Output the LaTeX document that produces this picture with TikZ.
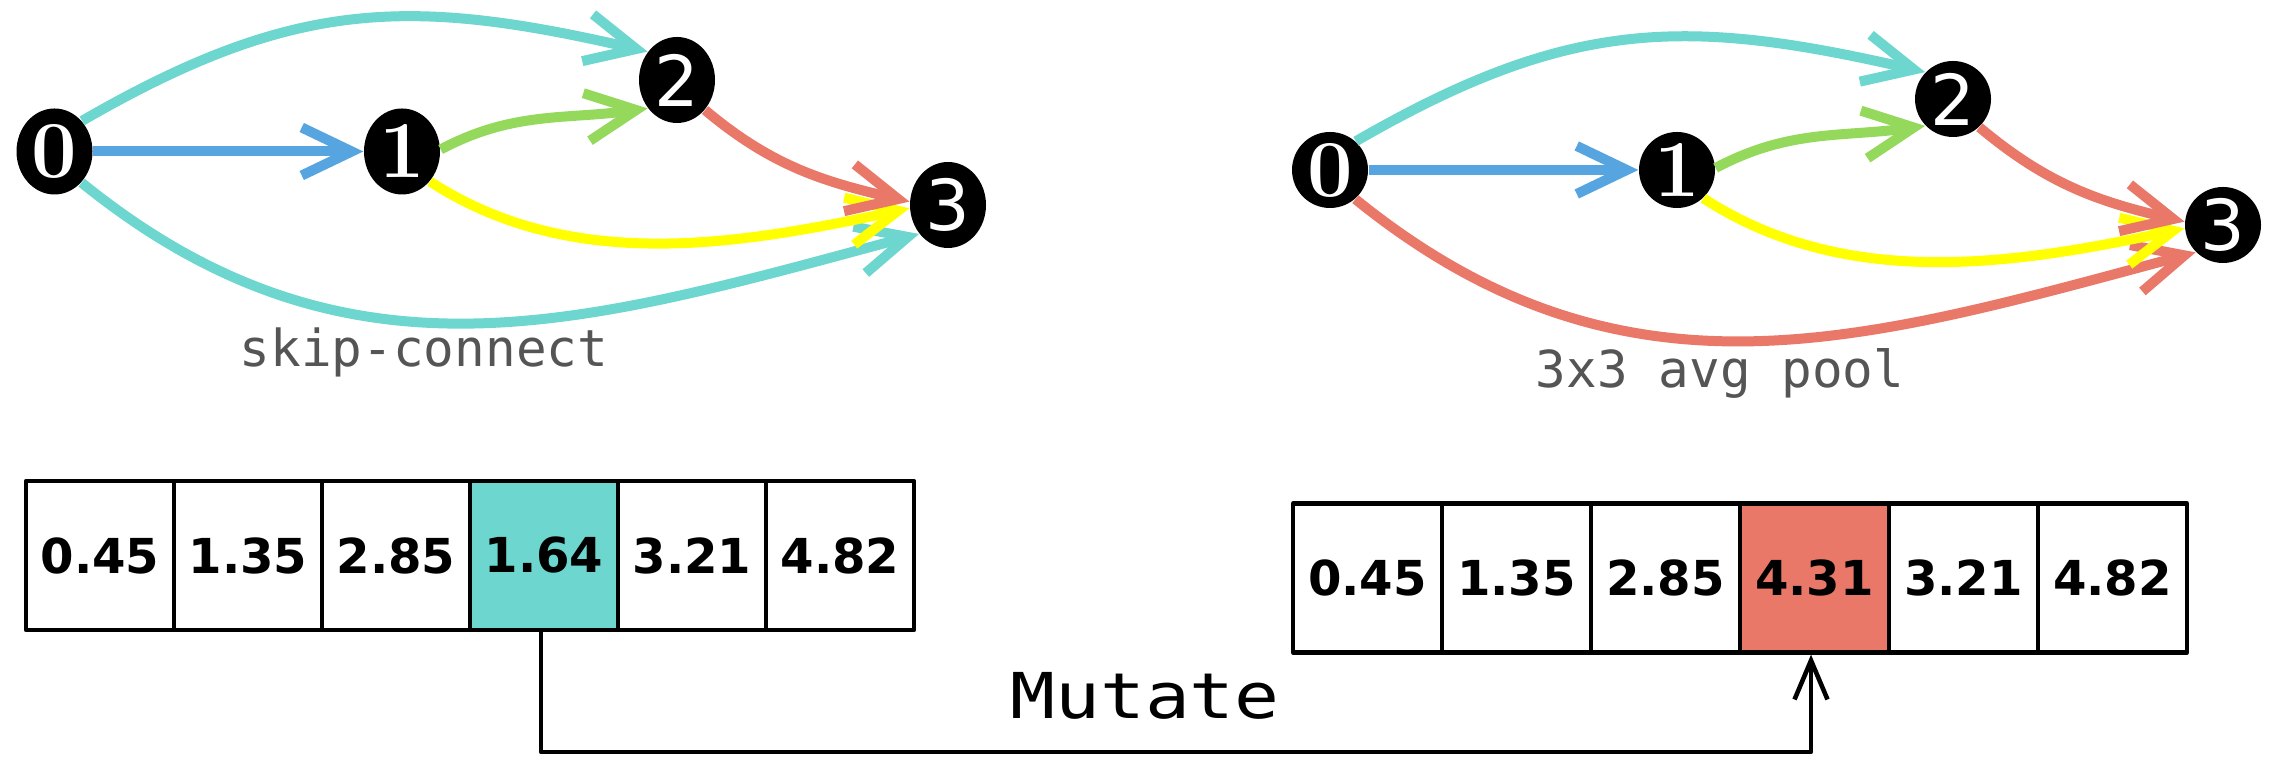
\documentclass[tikz,border=0pt]{standalone}
\usepackage{fontspec}
\usepackage{tikz}
\usetikzlibrary{arrows.meta}
\usetikzlibrary{shapes.geometric}
\newfontfamily\monofont{DejaVu Sans Mono}
\newfontfamily\dvsans{DejaVu Sans}
\definecolor{skipcyan}{RGB}{108,214,207}
\definecolor{poolred}{RGB}{233,120,104}
\definecolor{convblue}{RGB}{86,165,224}
\definecolor{sepgreen}{RGB}{148,216,92}
\definecolor{diltyellow}{RGB}{255,255,0}
\definecolor{labelgray}{RGB}{85,85,85}

\tikzset{
  opnode/.style={fill=black, text=white, inner sep=0pt},
  lnode/.style={opnode, ellipse, minimum width=0.76cm, minimum height=0.86cm},
  rnode/.style={opnode, circle, minimum size=0.76cm},
  romnum/.style={font=\fontsize{23}{25}\selectfont\bfseries},
  sansnum/.style={font=\dvsans\fontsize{20}{22}\selectfont},
  link/.style={line width=0.1cm, -{Straight Barb[length=0.5cm, width=0.48cm]}},
  cell/.style={draw, line width=1.2pt, minimum height=1.49cm, inner sep=0pt,
    font=\dvsans\bfseries\fontsize{13.7}{16}\selectfont},
  oplabel/.style={anchor=base, text=labelgray, font=\monofont\fontsize{14.5}{17}\selectfont}
}

\begin{document}
\begin{tikzpicture}[line join=round]
	\useasboundingbox (0,0) rectangle (22.75,-7.75);
	\node[lnode, romnum] (a0) at (0.545,-1.515) {0};
	\node[lnode, romnum] (a1) at (4.02,-1.515) {1};
	\node[lnode, sansnum] (a2) at (6.77,-0.80) {2};
	\node[lnode, sansnum] (a3) at (9.48,-2.05) {3};
	\node[rnode, romnum] (b0) at (13.30,-1.70) {0};
	\node[rnode, romnum] (b1) at (16.77,-1.70) {1};
	\node[rnode, sansnum] (b2) at (19.53,-0.99) {2};
	\node[rnode, sansnum] (b3) at (22.23,-2.25) {3};
	\foreach \g/\lc in {a/skipcyan, b/poolred} {
		\draw[link, convblue] (\g0) -- (\g1);
		\draw[link, skipcyan] (\g0.48) to[out=30, in=167, looseness=1.1] (\g2.136);
		\draw[link, \lc] (\g0.-49) to[out=-39, in=195, looseness=1.05] (\g3.225);
		\draw[link, sepgreen] (\g1.3) to[out=28, in=188] (\g2.224);
		\draw[link, diltyellow] (\g1.-47) to[out=-33, in=192, looseness=0.91] (\g3.185);
		\draw[link, poolred] (\g2.-47) to[out=-40, in=167] (\g3.175);
	}
	\node[oplabel] (skiplabel) at (4.24,-3.67) {skip-connect};
	\node[oplabel] (poollabel) at (17.20,-3.88) {3x3 avg pool};
	\foreach \v/\c [count=\i] in {0.45/white, 1.35/white, 2.85/white, 1.64/skipcyan, 3.21/white, 4.82/white}
		\node[cell, minimum width=1.48cm, fill=\c] (l\i) at (0.26+1.48*\i-0.74, -5.555) {\v};
	\foreach \v/\c [count=\i] in {0.45/white, 1.35/white, 2.85/white, 4.31/poolred, 3.21/white, 4.82/white}
		\node[cell, minimum width=1.49cm, fill=\c] (r\i) at (12.93+1.49*\i-0.745, -5.78) {\v};
	\draw[line width=1.3pt, -{Straight Barb[length=0.39cm, width=0.33cm]}] ([xshift=-0.03cm]l4.south) -- ++(0,-1.2) -| ([xshift=-0.035cm]r4.south);
	\node[anchor=base, font=\monofont\fontsize{18}{20}\selectfont] (mutate) at (11.45,-7.19) {\scalebox{1.18}[1]{Mutate}};
\end{tikzpicture}
\end{document}
